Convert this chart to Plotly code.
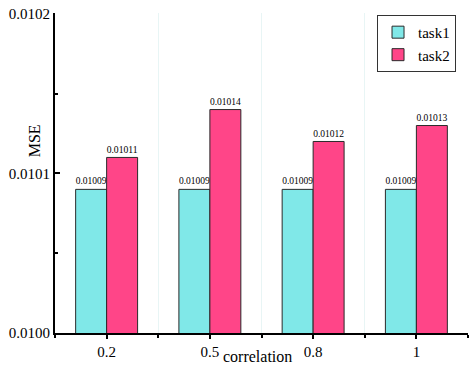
import plotly.graph_objects as go

categories = ["0.2", "0.5", "0.8", "1"]
task1 = [0.01009, 0.01009, 0.01009, 0.01009]
task2 = [0.01011, 0.01014, 0.01012, 0.01013]
y_tickvals = [0.0100, 0.0101, 0.0102]
y_ticktext = ["0.0100", "0.0101", "0.0102"]

idx = list(range(len(categories)))
FONT = "Liberation Serif, Times New Roman, serif"

fig = go.Figure()
fig.add_trace(go.Bar(
    x=idx, y=task1, name="task1",
    marker=dict(color="#80E8E8", line=dict(color="#2a2a2a", width=1)),
    text=[f"{v:.5f}" for v in task1], textposition="outside",
    textfont=dict(family=FONT, size=10, color="black"), cliponaxis=False,
))
fig.add_trace(go.Bar(
    x=idx, y=task2, name="task2",
    marker=dict(color="#FF4588", line=dict(color="#2a2a2a", width=1)),
    text=[f"{v:.5f}" for v in task2], textposition="outside",
    textfont=dict(family=FONT, size=10, color="black"), cliponaxis=False,
))

fig.update_layout(
    width=474, height=366, autosize=False,
    margin=dict(l=55, r=6, t=7, b=33),
    plot_bgcolor="white", paper_bgcolor="white",
    barmode="group", bargap=0.4, bargroupgap=0,
    font=dict(family=FONT, size=15, color="black"),
    legend=dict(x=0.971, y=0.994, xanchor="right", yanchor="top",
                bordercolor="#333", borderwidth=1, bgcolor="white",
                font=dict(family=FONT, size=15), tracegroupgap=0),
    xaxis=dict(
        range=[-0.5, 3.5], tickvals=idx, ticktext=categories,
        showline=True, linecolor="black", linewidth=2,
        ticks="outside", ticklen=4, tickwidth=1.5, tickcolor="black",
        showgrid=False, zeroline=False,
        minor=dict(tick0=0.5, dtick=1, ticks="outside", ticklen=3, tickwidth=1.5,
                   tickcolor="black", showgrid=True, gridcolor="#e8f5f5", gridwidth=1),
        tickfont=dict(family=FONT, size=15),
    ),
    yaxis=dict(
        range=[0.0100, 0.0102005], tickvals=y_tickvals, ticktext=y_ticktext,
        showline=True, linecolor="black", linewidth=2,
        ticks="inside", ticklen=5, tickwidth=1.5, tickcolor="black",
        showgrid=False, zeroline=False,
        minor=dict(tick0=0.0100, dtick=0.00005, ticks="inside", ticklen=3,
                   tickwidth=1.5, tickcolor="black", showgrid=False),
        tickfont=dict(family=FONT, size=15),
    ),
    annotations=[
        dict(text="MSE", xref="paper", yref="paper", x=-0.05, y=0.60,
             xanchor="center", yanchor="middle", textangle=-90, showarrow=False,
             font=dict(family=FONT, size=16)),
        dict(text="correlation", xref="paper", yref="paper", x=0.49, y=-0.073,
             xanchor="center", yanchor="middle", showarrow=False,
             font=dict(family=FONT, size=16)),
    ],
)

fig.write_html("out.html", config={"displayModeBar": False},
               post_script="document.body.style.margin='0';")
